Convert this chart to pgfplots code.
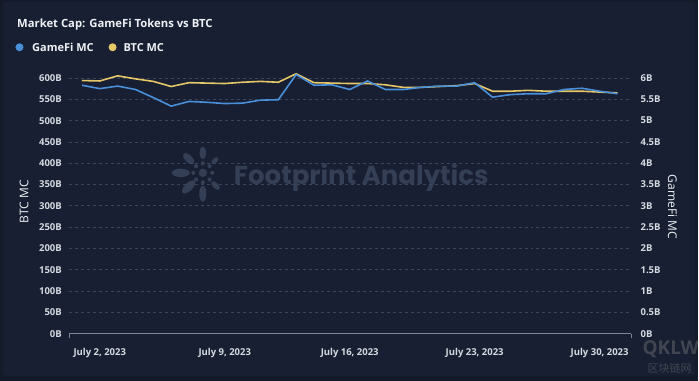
\documentclass[border=0pt]{standalone}
\usepackage{pgfplots}
\usepackage{pgfplotstable}
\pgfplotsset{compat=1.18}
\usepackage{fontspec}
\setmainfont{Open Sans}
\newfontfamily\wmfont{Poppins}
\newfontfamily\cjk{Noto Sans CJK SC}
\definecolor{bgouter}{HTML}{141A2A}
\definecolor{bgpanel}{HTML}{181F33}
\definecolor{gfblue}{HTML}{4A90D9}
\definecolor{btcyellow}{HTML}{E6C868}
\definecolor{gridc}{HTML}{3A4358}
\definecolor{axisc}{HTML}{7D8595}
\definecolor{txt}{HTML}{EEF1F5}
\definecolor{ticktxt}{HTML}{D5D9E0}
\definecolor{wm}{HTML}{343E54}

\pgfplotstableread{
day btc gamefi
1 594 5.83
2 593 5.75
3 605 5.81
4 598 5.73
5 592 5.54
6 580 5.34
7 589 5.45
8 588 5.43
9 587 5.40
10 590 5.41
11 592 5.48
12 590 5.49
13 610 6.08
14 589 5.83
15 588 5.84
16 587 5.73
17 587 5.93
18 584 5.73
19 578 5.73
20 578 5.78
21 580 5.81
22 582 5.81
23 587 5.89
24 569 5.55
25 569 5.61
26 571 5.63
27 569 5.63
28 569 5.73
29 569 5.76
30 567 5.69
31 565 5.63
}\data

\pgfplotsset{
  common/.style={
    at={(69pt,47pt)}, anchor=south west,
    scale only axis, width=563pt, height=266.6pt,
    xmin=0.272, xmax=31.78,
    /pgf/number format/assume math mode=true,
    major tick length=0pt,
    tick label style={font=\fontsize{9.5}{11}\selectfont\bfseries, text=ticktxt},
  }
}

\begin{document}
\begin{tikzpicture}[x=1pt,y=1pt]
\fill[bgouter] (0,0) rectangle (699,381);
\fill[bgpanel, rounded corners=3pt] (3,5) rectangle (696,379);

% watermark logo
\begin{scope}[shift={(203,208)}, wm]
  \fill (0,0) circle (4.2);
  \foreach \a in {0,45,...,315} { \fill (\a:9.5) circle (2.1); }
  \foreach \a/\r/\l/\w in {90/20/6.5/3.2, 135/20/7/3.6, 180/22/9/4.2, 225/20/8.5/4, 270/21/8/3.6, 45/17/4.5/2.4, 315/18/5.5/2.8} {
    \fill[rotate=\a] (\r,0) ellipse ({\l} and {\w});
  }
\end{scope}
\node[wm, font=\wmfont\fontsize{26}{30}\selectfont\bfseries, anchor=west, inner sep=0pt] at (234,203) {Footprint Analytics};

\begin{axis}[common,
  ymin=0, ymax=625,
  ytick={0,50,...,600},
  yticklabel={\pgfmathprintnumber{\tick}B},
  yticklabel style={anchor=east, inner sep=0pt, xshift=-7pt},
  xtick={2,9,16,23,30},
  xticklabels={{July 2, 2023},{July 9, 2023},{July 16, 2023},{July 23, 2023},{July 30, 2023}},
  xticklabel style={anchor=center, inner sep=0pt, yshift=-19.4pt},
  axis x line*=bottom, axis y line*=left,
  y axis line style={draw=none},
  x axis line style={draw=axisc, line width=0.8pt},
  ymajorgrids, grid style={gridc, dash pattern=on 3pt off 3pt, line width=0.7pt},
  extra x ticks={0.272,31.78}, extra x tick labels={},
  extra x tick style={major tick length=4pt, tick align=outside, tick style={axisc, line width=0.8pt}, grid=none},
]
\addplot[btcyellow, line width=1.6pt, no markers] table[x=day, y=btc] {\data};
\end{axis}

\begin{axis}[common,
  ymin=0, ymax=6.25,
  ytick={0,0.5,...,6},
  yticklabel={\pgfmathprintnumber{\tick}B},
  yticklabel style={anchor=west, inner sep=0pt, xshift=9pt},
  axis x line=none, axis y line*=right,
  y axis line style={draw=none},
  xtick=\empty,
]
\addplot[gfblue, line width=1.6pt, no markers] table[x=day, y=gamefi] {\data};
\end{axis}

% titles and labels
\node[anchor=west, inner sep=0pt, text=txt, font=\fontsize{11.3}{13}\selectfont\bfseries] at (17,356) {Market Cap: GameFi Tokens vs BTC};
\fill[gfblue] (19.5,333.7) circle (4);
\node[anchor=west, inner sep=0pt, text=txt, font=\fontsize{11}{13}\selectfont\bfseries] at (32,333.7) {GameFi MC};
\fill[btcyellow] (112.7,333.7) circle (4);
\node[anchor=west, inner sep=0pt, text=txt, font=\fontsize{11}{13}\selectfont\bfseries] at (123.5,333.7) {BTC MC};
\node[rotate=90, text=txt, font=\fontsize{12}{14}\selectfont] at (24,179) {BTC MC};
\node[rotate=-90, text=txt, font=\fontsize{12}{14}\selectfont] at (673,174) {GameFi MC};

% QKLW watermark
\node[anchor=west, inner sep=0pt, text=gray, opacity=0.4, font=\fontsize{19}{21}\selectfont\bfseries] at (643,31) {QKLW};
\node[anchor=west, inner sep=0pt, text=gray, opacity=0.4, font=\cjk\fontsize{11}{13}\selectfont] at (648,12) {区块链网};
\end{tikzpicture}
\end{document}
